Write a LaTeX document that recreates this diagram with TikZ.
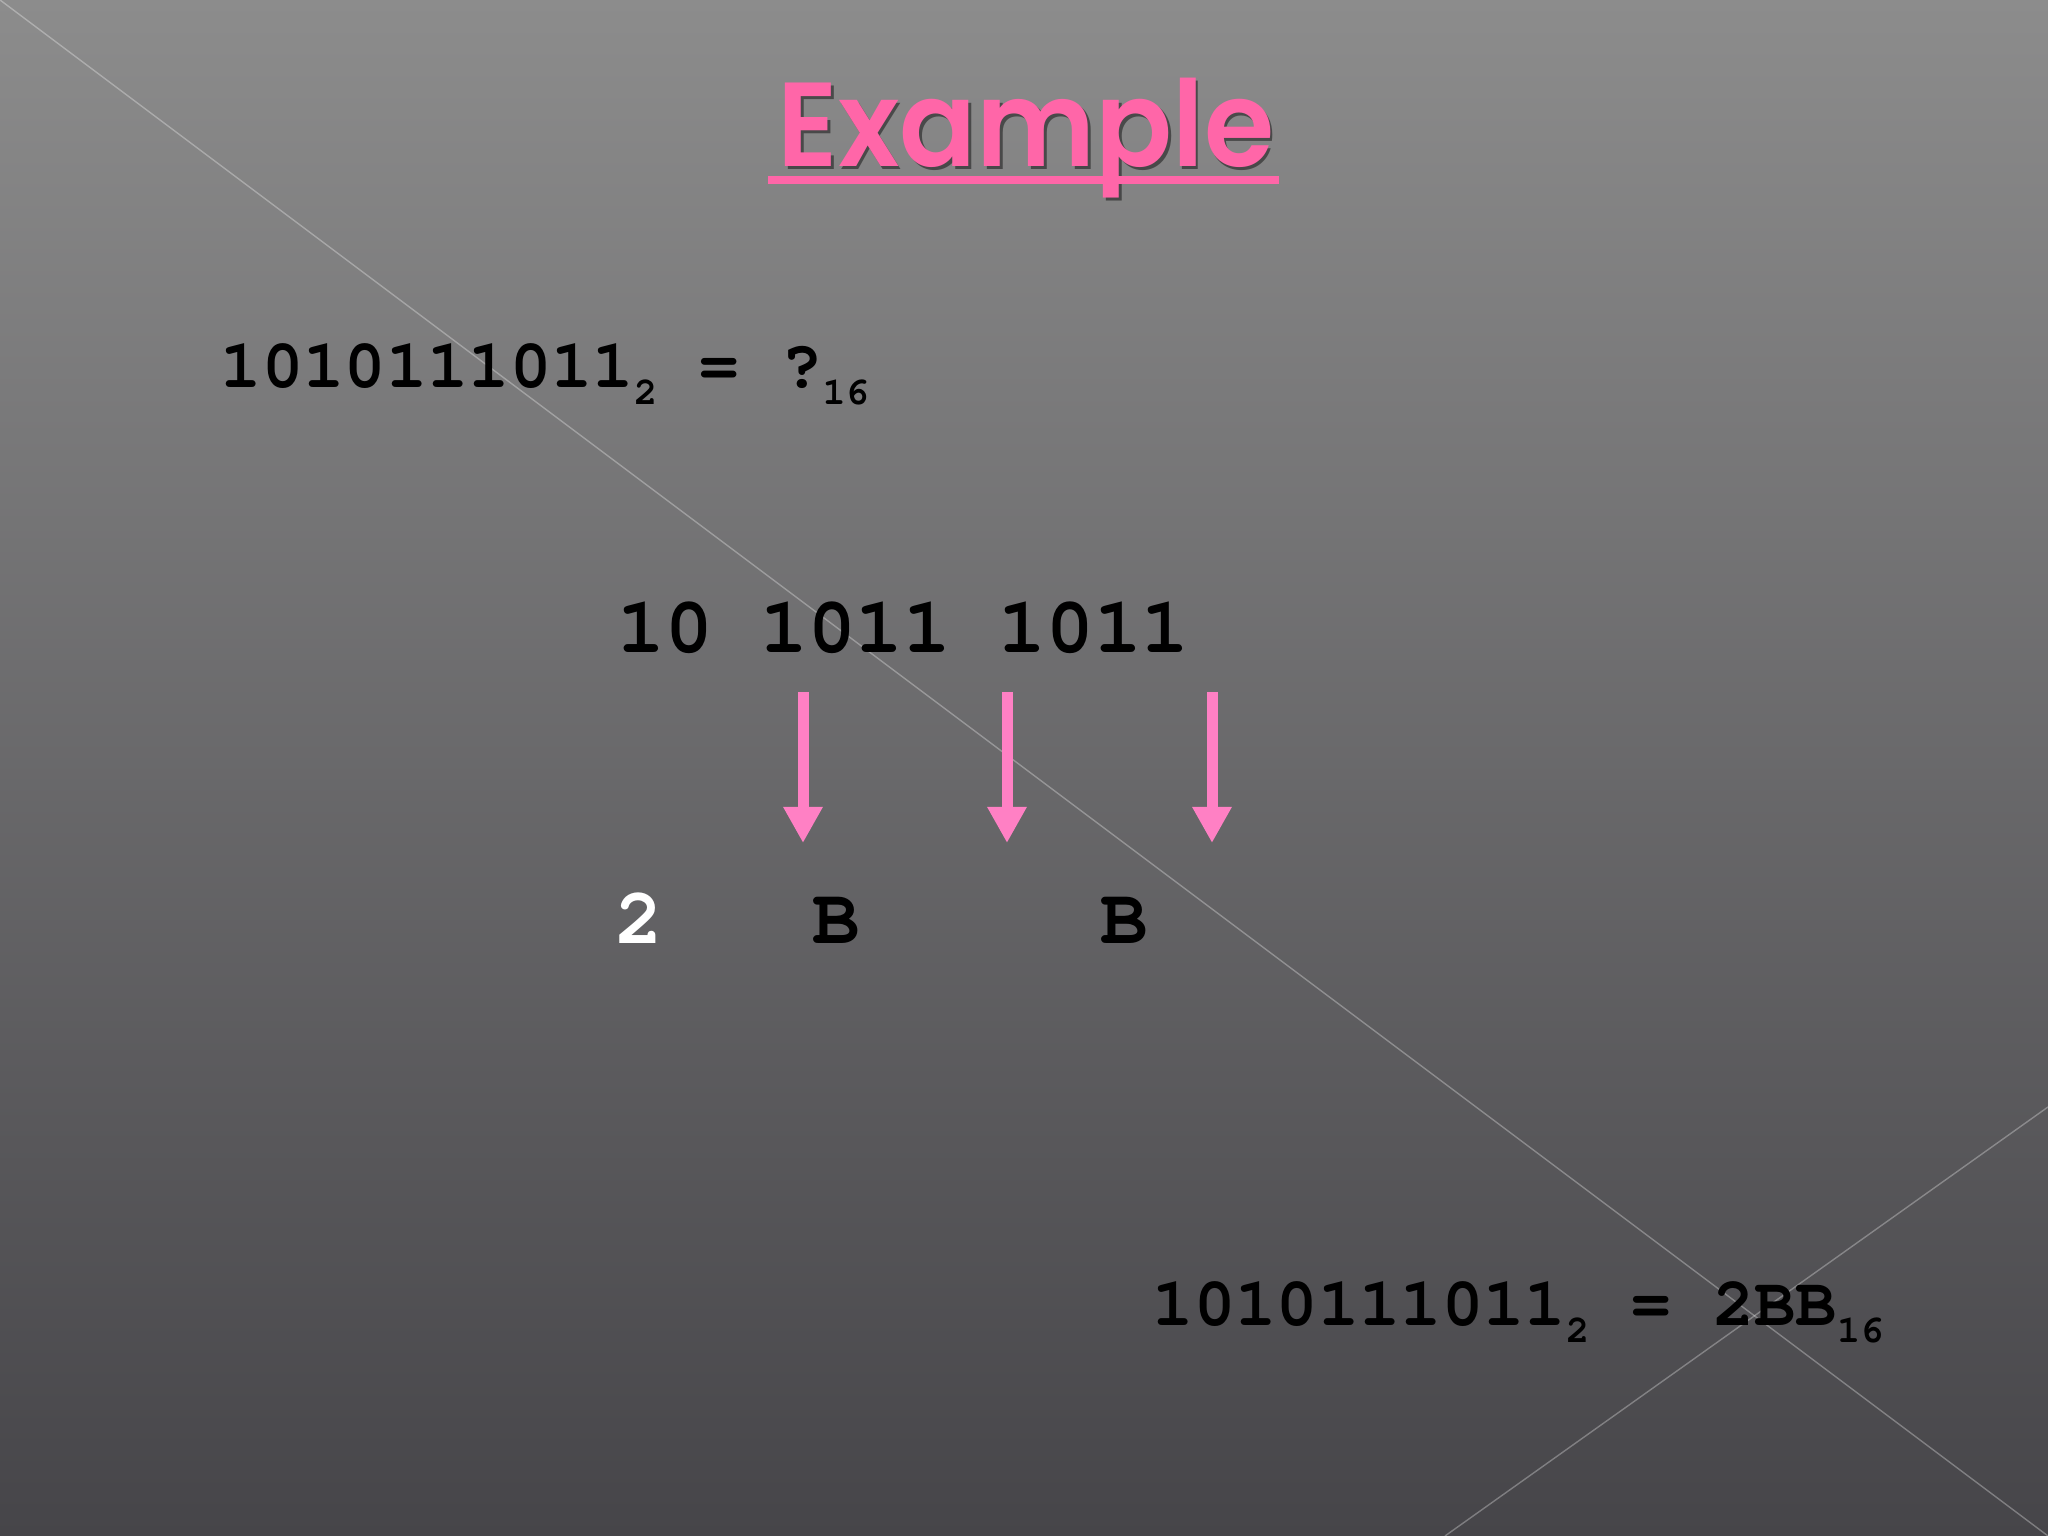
\documentclass[tikz,border=0pt]{standalone}
\usepackage{fontspec}
\usepackage{tikz}
\usetikzlibrary{arrows.meta,
                positioning}
\newfontfamily\headfont[FakeStretch=0.95]{Poppins SemiBold}
\newcommand{\codefont}{\fontencoding{T1}\fontfamily{pcr}\bfseries}
\definecolor{bgtop}{RGB}{140,140,140}
\definecolor{bgbottom}{RGB}{70,69,73}
\definecolor{titlepink}{RGB}{255,102,168}
\definecolor{arrowpink}{RGB}{255,128,196}
\newcommand{\lowsub}[1]{\raisebox{-0.17cm}{\fontsize{11}{11}\selectfont #1}}
\tikzset{
        base/.style={inner sep=0pt, anchor=base west},
        eqn/.style={base, font=\codefont\fontsize{19.6}{20}\selectfont},
        bits/.style={base, font=\codefont\fontsize{22.6}{23}\selectfont},
        head/.style={inner sep=0pt, anchor=base,
                     font=\headfont\fontsize{34}{40}\selectfont},
        myarrow/.style={arrowpink, line width=0.11cm,
                        -{Triangle[width=0.37cm, length=0.36cm]}},
        deco/.style={white, opacity=0.3, line width=0.4pt},
}
\begin{document}
\begin{tikzpicture}
        \shade[top color=bgtop, bottom color=bgbottom] (0,0) rectangle (20.48,15.36);
        \useasboundingbox (0,0) rectangle (20.48,15.36);
        \draw[deco] (0,15.36) -- (20.48,0);
        \draw[deco] (14.45,0) -- (20.48,4.29);

        % title with its shadow
        \node[head, text=black, opacity=0.45] (titleshadow) at (10.285,13.665) {Example};
        \node[head, text=titlepink] (title) at (10.26,13.69) {Example};
        \draw[titlepink, line width=0.08cm]
             ([xshift=-0.09cm, yshift=-0.13cm] title.base west) --
             ([xshift=0.04cm, yshift=-0.13cm] title.base east);

        \node[eqn] (question) at (2.20,11.48)
             {1010111011\lowsub{2} = ?\lowsub{16}};

        \node[bits] (groups) at (6.17,8.83) {10 1011 1011};
        \node[bits, text=white] (hex2) at (6.15,5.92) {2};
        \node[bits] (hexb1) at (8.12,5.92) {B};
        \node[bits] (hexb2) at (11.00,5.92) {B};

        \coordinate (a1) at (8.03,8.44);
        \coordinate (b1) at (8.03,6.93);
        \coordinate (a2) at (10.07,8.44);
        \coordinate (b2) at (10.07,6.93);
        \coordinate (a3) at (12.12,8.44);
        \coordinate (b3) at (12.12,6.93);
        \draw[myarrow] (a1) -- (b1);
        \draw[myarrow] (a2) -- (b2);
        \draw[myarrow] (a3) -- (b3);

        \node[eqn] (answer) at (11.52,2.10)
             {1010111011\lowsub{2} = 2BB\lowsub{16}};
\end{tikzpicture}
\end{document}
